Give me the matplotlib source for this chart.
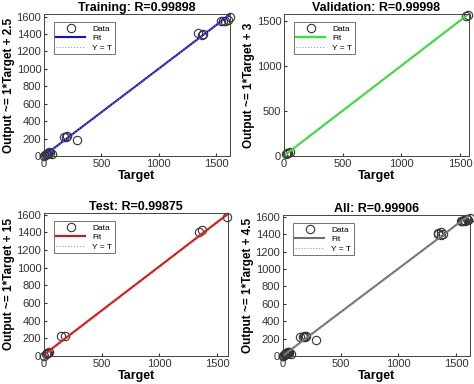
import matplotlib
matplotlib.use("Agg")
import matplotlib.pyplot as plt
import numpy as np

plt.rcParams['font.family'] = ['Liberation Sans', 'DejaVu Sans']

# Training data
train_target = [0, 8, 15, 22, 28, 35, 40, 48, 72, 170, 188, 196, 290, 1340, 1372, 1385, 1545, 1560, 1578, 1600, 1620]
train_output = [0, 10, 20, 28, 24, 35, 42, 38, 20, 222, 215, 225, 180, 1410, 1392, 1398, 1550, 1555, 1552, 1565, 1590]
# Validation data
val_target = [15, 25, 35, 48, 1552, 1565]
val_output = [18, 28, 38, 42, 1555, 1560]
# Test data
test_target = [0, 15, 25, 35, 45, 150, 178, 1345, 1370, 1590]
test_output = [0, 22, 30, 38, 45, 222, 228, 1405, 1425, 1570]

titles = ["Training: R=0.99898", "Validation: R=0.99998", "Test: R=0.99875", "All: R=0.99906"]
ylabels = ["Output ~= 1*Target + 2.5", "Output ~= 1*Target + 3",
           "Output ~= 1*Target + 15", "Output ~= 1*Target + 4.5"]
fit_offsets = [2.5, 3, 15, 4.5]
fit_colors = ["#1010d0", "#22ee22", "#e01010", "#707070"]
xlims = [1620, 1575, 1595, 1620]
ylims = [1630, 1575, 1620, 1620]
yticks = [[0, 200, 400, 600, 800, 1000, 1200, 1400, 1600],
          [0, 500, 1000, 1500],
          [0, 200, 400, 600, 800, 1000, 1200, 1400, 1600],
          [0, 200, 400, 600, 800, 1000, 1200, 1400, 1600]]
xticks = [0, 500, 1000, 1500]

all_target = train_target + val_target + test_target
all_output = train_output + val_output + test_output
datasets = [(train_target, train_output), (val_target, val_output),
            (test_target, test_output), (all_target, all_output)]

fig = plt.figure(figsize=(4.74, 3.84), dpi=100)
rects = [
    (44, 14, 230, 156),
    (284, 14, 469, 156),
    (44, 213, 228, 356),
    (283, 215, 470, 356),
]
W, H = 474, 384
for i, (l, t, r, b) in enumerate(rects):
    ax = fig.add_axes([l / W, 1 - b / H, (r - l) / W, (b - t) / H])
    tx, oy = datasets[i]
    xs = np.array([0, xlims[i]])
    ax.plot(tx, oy, 'o', mfc='none', mec='#333333', ms=6, mew=0.8, label='Data', clip_on=False)
    ax.plot(xs, xs + fit_offsets[i], '-', color=fit_colors[i], lw=1.5, label='Fit')
    ax.plot(xs, xs, ':', color='#999999', lw=0.8, label='Y = T')
    ax.set_xlim(0, xlims[i])
    ax.set_ylim(0, ylims[i])
    ax.set_xticks(xticks)
    ax.set_yticks(yticks[i])
    ax.tick_params(labelsize=8, colors='#333333', length=2, direction='in', pad=2)
    ax.set_title(titles[i], fontsize=9, fontweight='bold', pad=2)
    ax.set_xlabel("Target", fontsize=9, fontweight='bold', labelpad=1)
    ax.set_ylabel(ylabels[i], fontsize=8.5, fontweight='bold', labelpad=1)
    for s in ax.spines.values():
        s.set_color('#444444')
        s.set_linewidth(0.7)
    leg = ax.legend(loc='upper left', fontsize=6, frameon=True, fancybox=False,
                    edgecolor='#333333', borderpad=0.3, labelspacing=0.2,
                    handlelength=3.5, handletextpad=0.8, bbox_to_anchor=(0.03, 0.97))
    leg.get_frame().set_linewidth(0.6)

fig.savefig("out.png", dpi=100, facecolor='white')
